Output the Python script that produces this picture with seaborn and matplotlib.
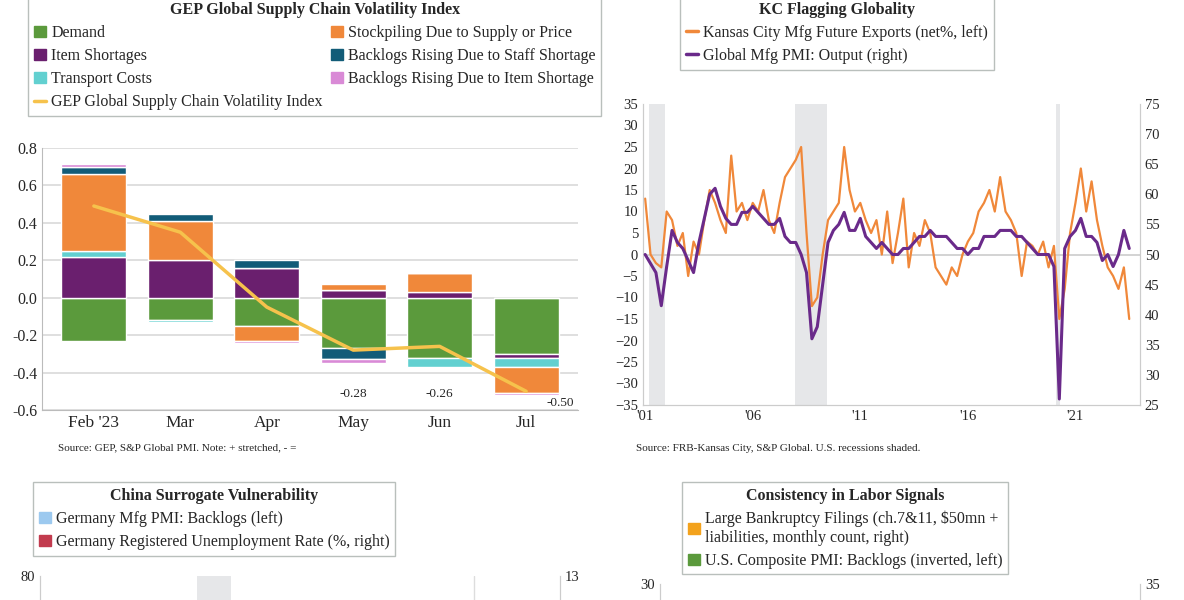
import numpy as np
import pandas as pd
import matplotlib
matplotlib.use("Agg")
import matplotlib.pyplot as plt
import seaborn as sns
from matplotlib.patches import Patch
from matplotlib.lines import Line2D

sns.set_style("white")
plt.rcParams['font.family'] = ['Liberation Serif', 'DejaVu Serif']

# ---------------- data: GEP panel ----------------
months = ["Feb '23", "Mar", "Apr", "May", "Jun", "Jul"]
demand = [-0.23, -0.12, -0.15, -0.27, -0.32, -0.30]
item_short = [0.22, 0.20, 0.16, 0.04, 0.03, -0.02]
transport = [0.03, -0.01, 0.00, 0.00, -0.05, -0.05]
stockpile = [0.41, 0.21, -0.08, 0.035, 0.10, -0.14]
staff_backlog = [0.04, 0.04, 0.04, -0.06, 0.00, 0.00]
item_backlog = [0.015, 0.005, -0.01, -0.02, 0.00, -0.01]
gep_index = [0.49, 0.35, -0.05, -0.28, -0.26, -0.50]
gep_labels = ["", "", "", "-0.28", "-0.26", "-0.50"]

# ---------------- data: KC panel (quarterly) ----------------
kc_exports = [13, 0, -2, -3, 10, 8, 2, 5, -5, 3, 0, 8, 15, 12, 8, 5,
              23, 10, 12, 8, 12, 10, 15, 8, 5, 12, 18, 20, 22, 25, 5, -12,
              -10, 0, 8, 10, 12, 25, 15, 10, 12, 8, 5, 8, 0, 10, -2, 5,
              13, -3, 5, 2, 8, 5, -3, -5, -7, -3, -5, 0, 3, 5, 10, 12,
              15, 10, 18, 10, 8, 5, -5, 3, 2, 0, 3, -3, 2, -15, -8, 5,
              12, 20, 10, 17, 8, 2, -3, -5, -8, -3, -15]
global_pmi = [50, 48.5, 47, 41.5, 48, 54, 52, 51, 49, 47, 52, 56, 60, 61, 58, 56,
              55, 55, 57, 57, 58, 57, 56, 55, 55, 56, 53, 52, 52, 50, 47, 36,
              38, 45, 52, 54, 55, 57, 54, 54, 56, 53, 52, 51, 52, 51, 50, 50,
              51, 51, 52, 53, 53, 54, 53, 53, 53, 52, 51, 51, 50, 51, 51, 53,
              53, 53, 54, 54, 54, 53, 53, 52, 51, 50, 50, 50, 48, 26, 51, 53,
              54, 56, 53, 53, 52, 49, 50, 48, 50, 54, 51]
kc_dates = [2001 + i * 0.25 for i in range(len(kc_exports))]
recessions = [(2001.2, 2001.9), (2007.95, 2009.45), (2020.1, 2020.3)]

fig = plt.figure(figsize=(11.84, 6.0), dpi=100)
W, H = 1184, 600
def box(x0, y0, x1, y1):
    return [x0 / W, 1 - y1 / H, (x1 - x0) / W, (y1 - y0) / H]

FS = 11.5
LFS = 11.5
# ---------------- GEP panel ----------------
ax1 = fig.add_axes(box(42, 148, 578, 410))
cols = {"Demand": "#5b9a3c", "Item Shortages": "#6a1f6e", "Transport Costs": "#62d0d0",
        "Stockpiling Due to Supply or Price": "#f0883a",
        "Backlogs Rising Due to Staff Shortage": "#125c78",
        "Backlogs Rising Due to Item Shortage": "#d98ad6"}
series = [("Demand", demand), ("Item Shortages", item_short), ("Transport Costs", transport),
          ("Stockpiling Due to Supply or Price", stockpile),
          ("Backlogs Rising Due to Staff Shortage", staff_backlog),
          ("Backlogs Rising Due to Item Shortage", item_backlog)]
x = np.arange(len(months))
pos = np.zeros(len(months)); neg = np.zeros(len(months))
for name, vals in series:
    v = np.array(vals)
    bottoms = np.where(v >= 0, pos, neg)
    ax1.bar(x, v, bottom=bottoms, width=0.75, color=cols[name], zorder=2)
    pos = pos + np.where(v >= 0, v, 0)
    neg = neg + np.where(v < 0, v, 0)
df = pd.DataFrame({"x": x, "y": gep_index})
sns.lineplot(data=df, x="x", y="y", ax=ax1, color="#f6c24c", lw=2.5, zorder=3)
for xi, lab in zip(x, gep_labels):
    if lab:
        ax1.text(xi + (0.4 if xi == 5 else 0), -0.515 if xi < 5 else -0.56, lab,
                 ha="center", va="center", fontsize=9.5)
ax1.set_ylim(-0.6, 0.8)
ax1.set_yticks(np.arange(-0.6, 0.81, 0.2))
ax1.set_yticklabels([f"{v:.1f}" for v in np.arange(-0.6, 0.81, 0.2)])
ax1.set_xlim(-0.6, 5.6)
ax1.set_xticks(x); ax1.set_xticklabels(months)
ax1.grid(axis="y", color="#d9d9d9", lw=1.2, zorder=0)
for s in ["top", "right"]:
    ax1.spines[s].set_visible(False)
ax1.spines["left"].set_color("#bbbbbb"); ax1.spines["bottom"].set_color("#bbbbbb")
ax1.set_xlabel(""); ax1.set_ylabel("")
ax1.tick_params(labelsize=FS, length=0)
ax1.tick_params(axis="x", labelsize=12.5)
handles = [Patch(color=cols["Demand"], label="Demand"),
           Patch(color=cols["Item Shortages"], label="Item Shortages"),
           Patch(color=cols["Transport Costs"], label="Transport Costs"),
           Line2D([], [], color="#f6c24c", lw=2.5, label="GEP Global Supply Chain Volatility Index"),
           Patch(color=cols["Stockpiling Due to Supply or Price"], label="Stockpiling Due to Supply or Price"),
           Patch(color=cols["Backlogs Rising Due to Staff Shortage"], label="Backlogs Rising Due to Staff Shortage"),
           Patch(color=cols["Backlogs Rising Due to Item Shortage"], label="Backlogs Rising Due to Item Shortage")]
common = dict(fontsize=LFS, title_fontproperties={"weight": "bold", "size": LFS}, frameon=True,
              fancybox=False, edgecolor="#a8b0ac", handlelength=0.8, handletextpad=0.3,
              labelspacing=0.45, borderpad=0.35)
fig.legend(handles=handles, ncol=2, loc="upper left", bbox_to_anchor=(20 / W, 1 + 12 / H),
           title="GEP Global Supply Chain Volatility Index", columnspacing=0.5, **common)
fig.text(58 / W, 1 - 450 / H, "Source: GEP, S&P Global PMI. Note: + stretched, - =", fontsize=8)

# ---------------- KC panel ----------------
ax2 = fig.add_axes(box(643, 104, 1140, 405))
for a, b in recessions:
    ax2.axvspan(a, b, color="#e6e7e9", zorder=0, lw=0)
ax2.axhline(0, color="#cccccc", lw=1.2, zorder=1)
dk = pd.DataFrame({"date": kc_dates, "kc": kc_exports, "pmi": global_pmi})
sns.lineplot(data=dk, x="date", y="kc", ax=ax2, color="#f0883a", lw=1.6, zorder=2)
ax2b = ax2.twinx()
sns.lineplot(data=dk, x="date", y="pmi", ax=ax2b, color="#6a2a8a", lw=2.2, zorder=3)
ax2.set_ylim(-35, 35); ax2b.set_ylim(25, 75)
ax2.set_yticks(range(-35, 36, 5)); ax2b.set_yticks(range(25, 76, 5))
ax2.set_xlim(2000.9, 2024.0)
ax2.set_xticks([2001, 2006, 2011, 2016, 2021])
ax2.set_xticklabels(["'01", "'06", "'11", "'16", "'21"])
for a in (ax2, ax2b):
    a.set_xlabel(""); a.set_ylabel("")
    a.tick_params(labelsize=FS - 1, length=0)
    for s in a.spines.values():
        s.set_color("#cccccc")
ax2.spines["top"].set_visible(False); ax2b.spines["top"].set_visible(False)
h2 = [Line2D([], [], color="#f0883a", lw=2.5, label="Kansas City Mfg Future Exports (net%, left)"),
      Line2D([], [], color="#6a2a8a", lw=2.5, label="Global Mfg PMI: Output (right)")]
fig.legend(handles=h2, loc="upper left", bbox_to_anchor=(672 / W, 1 + 12 / H),
           title="KC Flagging Globality", **common)
fig.text(636 / W, 1 - 451 / H, "Source: FRB-Kansas City, S&P Global. U.S. recessions shaded.", fontsize=8)

# ---------------- bottom panels (cut off) ----------------
ax3 = fig.add_axes(box(40, 576, 560, 860))
ax3.axvspan(2007.95, 2009.45, color="#e6e7e9", lw=0)
ax3.axvline(2020.2, color="#dddddd", lw=1)
ax3.set_xlim(2001, 2024); ax3.set_ylim(20, 80)
ax3.set_yticks([80])
ax3b = ax3.twinx(); ax3b.set_ylim(1, 13); ax3b.set_yticks([13])
for a in (ax3, ax3b):
    a.tick_params(labelsize=FS - 1, length=0)
    for s in a.spines.values():
        s.set_color("#cccccc")
    a.spines["top"].set_visible(False)
ax3.set_xticks([])
h3 = [Patch(color="#9cc9ef", label="Germany Mfg PMI: Backlogs (left)"),
      Patch(color="#c23b4e", label="Germany Registered Unemployment Rate (%, right)")]
fig.legend(handles=h3, loc="upper left", bbox_to_anchor=(25 / W, 1 - 474 / H),
           title="China Surrogate Vulnerability", **common)

ax4 = fig.add_axes(box(660, 584, 1140, 860))
ax4.set_ylim(-30, 30); ax4.set_yticks([30])
ax4b = ax4.twinx(); ax4b.set_ylim(0, 35); ax4b.set_yticks([35])
for a in (ax4, ax4b):
    a.tick_params(labelsize=FS - 1, length=0)
    for s in a.spines.values():
        s.set_color("#cccccc")
    a.spines["top"].set_visible(False)
ax4.set_xticks([])
h4 = [Patch(color="#f3a21c", label="Large Bankruptcy Filings (ch.7&11, $50mn +\nliabilities, monthly count, right)"),
      Patch(color="#5b9a3c", label="U.S. Composite PMI: Backlogs (inverted, left)")]
fig.legend(handles=h4, loc="upper left", bbox_to_anchor=(674 / W, 1 - 474 / H),
           title="Consistency in Labor Signals", **common)

fig.savefig("out.png", dpi=100)
